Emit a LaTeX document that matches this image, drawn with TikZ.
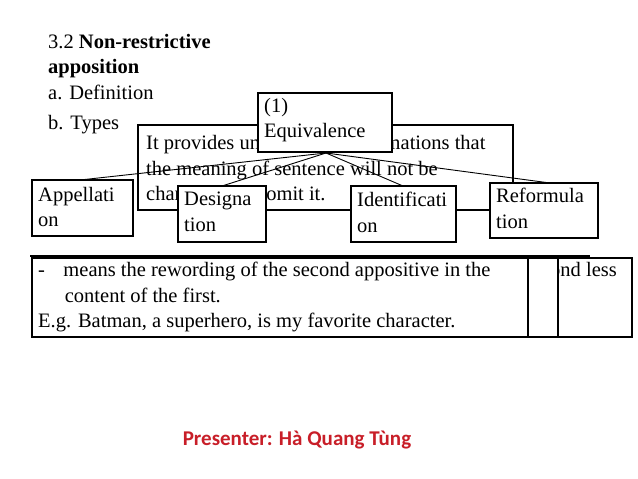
\documentclass[tikz,border=0pt]{standalone}
\usepackage{fontspec}
\setmainfont{Liberation Serif}
\newfontfamily\presfont{Carlito}
\begin{document}
\begin{tikzpicture}[x=1pt,y=-1pt,
  bx/.style={draw,line width=1.6pt,fill=white,inner sep=0pt},
  tx/.style={anchor=north west,inner sep=0pt,font=\fontsize{20.5}{25.5}\selectfont,align=left}]
\useasboundingbox (0,0) rectangle (638,479);
\node[tx] (t1) at (48,34) {3.2 \textbf{Non-restrictive}\\\textbf{apposition}};
\node[tx] (t2) at (48,85) {a. Definition};
\node[tx] (t3) at (48,115) {b. Types};
\draw[line width=1.6pt,fill=white] (138,125) rectangle (513,210);
\node[tx] (def) at (146,135) {It provides unnecessary informations that\\the meaning of sentence will not be\\changed if we omit it.};
\draw[bx] (258,93) rectangle (392,152);
\node[tx] (eq) at (264,98) {(1)\\Equivalence};
\coordinate (eqb) at (326,153);
\draw[bx] (32,180) rectangle (133,236); \node[tx] (ap) at (38,187) {Appellati\\on};
\draw[bx] (178,186) rectangle (266,242); \node[tx] (de) at (184,192) {Designa\\tion};
\draw[bx] (351,186) rectangle (456,242); \node[tx] (id) at (357,192) {Identificati\\on};
\draw[bx] (490,183) rectangle (598,238); \node[tx] (re) at (496,188) {Reformula\\tion};
\coordinate (apt) at (80,180); \coordinate (det) at (222,186);
\coordinate (idt) at (403,186); \coordinate (ret) at (550,183);
\draw[line width=0.9pt] (eqb) -- (apt); \draw[line width=0.9pt] (eqb) -- (det);
\draw[line width=0.9pt] (eqb) -- (idt); \draw[line width=0.9pt] (eqb) -- (ret);
\draw[line width=2.5pt] (30,256) -- (590,256);
\draw[bx] (558,258) rectangle (632,337);
\node[tx] (ol) at (550,262) {ond less};
\draw[bx] (528,258) rectangle (558,337);
\draw[bx] (32,258) rectangle (528,337);
\node[tx] (ex) at (38,262) {-\hspace{0.9em}means the rewording of the second appositive in the\\\hspace*{1.3em}content of the first.\\E.g. Batman, a superhero, is my favorite character.};
\node[font=\presfont\bfseries\fontsize{21}{24}\selectfont,text={rgb,255:red,200;green,30;blue,40}] (pr) at (297,440) {Presenter: Hà Quang Tùng};
\end{tikzpicture}
\end{document}
